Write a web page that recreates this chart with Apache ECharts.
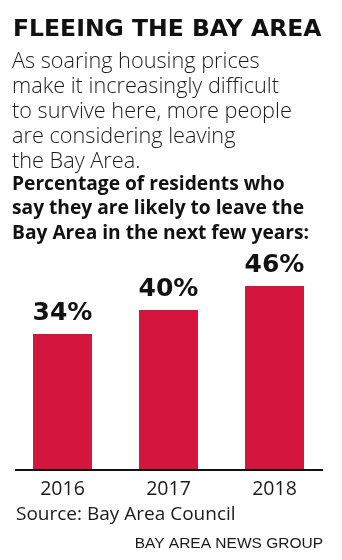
<!DOCTYPE html>
<html>
<head>
<meta charset="utf-8">
<style>
html,body{margin:0;padding:0;background:#fff;}
#chart{width:342px;height:560px;}
</style>
<script src="https://cdn.jsdelivr.net/npm/echarts@6/dist/echarts.min.js"></script>
</head>
<body>
<div id="chart"></div>
<script>
const categories = ['2016', '2017', '2018'];
const values = [34, 40, 46];
const titleText = 'FLEEING THE BAY AREA';
const introLines = ['As soaring housing prices', 'make it increasingly difficult', 'to survive here, more people', 'are considering leaving', 'the Bay Area.'];
const questionLines = ['Percentage of residents who', 'say they are likely to leave the', 'Bay Area in the next few years:'];
const sourceText = 'Source: Bay Area Council';
const creditText = 'BAY AREA NEWS GROUP';

const chart = echarts.init(document.getElementById('chart'), null, {renderer: 'canvas'});
const option = {
  backgroundColor: '#ffffff',
  animation: false,
  title: [
    {text: titleText, left: 13, top: 18, padding: 0,
     textStyle: {fontFamily: 'DejaVu Sans', fontWeight: 'bold', fontSize: 23.5, color: '#111', lineHeight: 24}},
    {text: introLines.join('\n'), left: 12, top: 49, padding: 0,
     textStyle: {fontFamily: 'Open Sans', fontWeight: 300, fontSize: 21.7, color: '#1a1a1a', lineHeight: 25}},
    {text: questionLines.join('\n'), left: 12, top: 172, padding: 0,
     textStyle: {fontFamily: 'Open Sans', fontWeight: 'bold', fontSize: 19.2, color: '#111', lineHeight: 24.5}},
    {text: sourceText, left: 16, top: 503, padding: 0,
     textStyle: {fontFamily: 'Open Sans', fontWeight: 'normal', fontSize: 19, color: '#1a1a1a', lineHeight: 24}},
    {text: creditText, right: 19, top: 535, padding: 0,
     textStyle: {fontFamily: 'Liberation Sans', fontWeight: 'normal', fontSize: 15.5, color: '#1a1a1a', lineHeight: 18}}
  ],
  grid: {left: 9.5, right: 14.5, top: 230, bottom: 90},
  xAxis: {
    type: 'category',
    data: categories,
    axisTick: {show: false},
    axisLine: {show: false},
    axisLabel: {margin: 9, fontFamily: 'Open Sans', fontSize: 19.5, color: '#1a1a1a'}
  },
  yAxis: {type: 'value', min: 0, max: 60, show: false, splitLine: {show: false}},
  series: [{
    type: 'bar',
    data: values,
    barWidth: 59,
    itemStyle: {color: '#d4163f'},
    label: {
      show: true, position: 'top', distance: 8,
      formatter: p => p.value + '%',
      fontFamily: 'DejaVu Sans', fontWeight: 'bold', fontSize: 25, color: '#111'
    }
  }],
  graphic: [{
    type: 'line', shape: {x1: 15, y1: 470, x2: 323, y2: 470},
    style: {stroke: '#111', lineWidth: 2}, z: 10
  }]
};
chart.setOption(option);
</script>
</body>
</html>
